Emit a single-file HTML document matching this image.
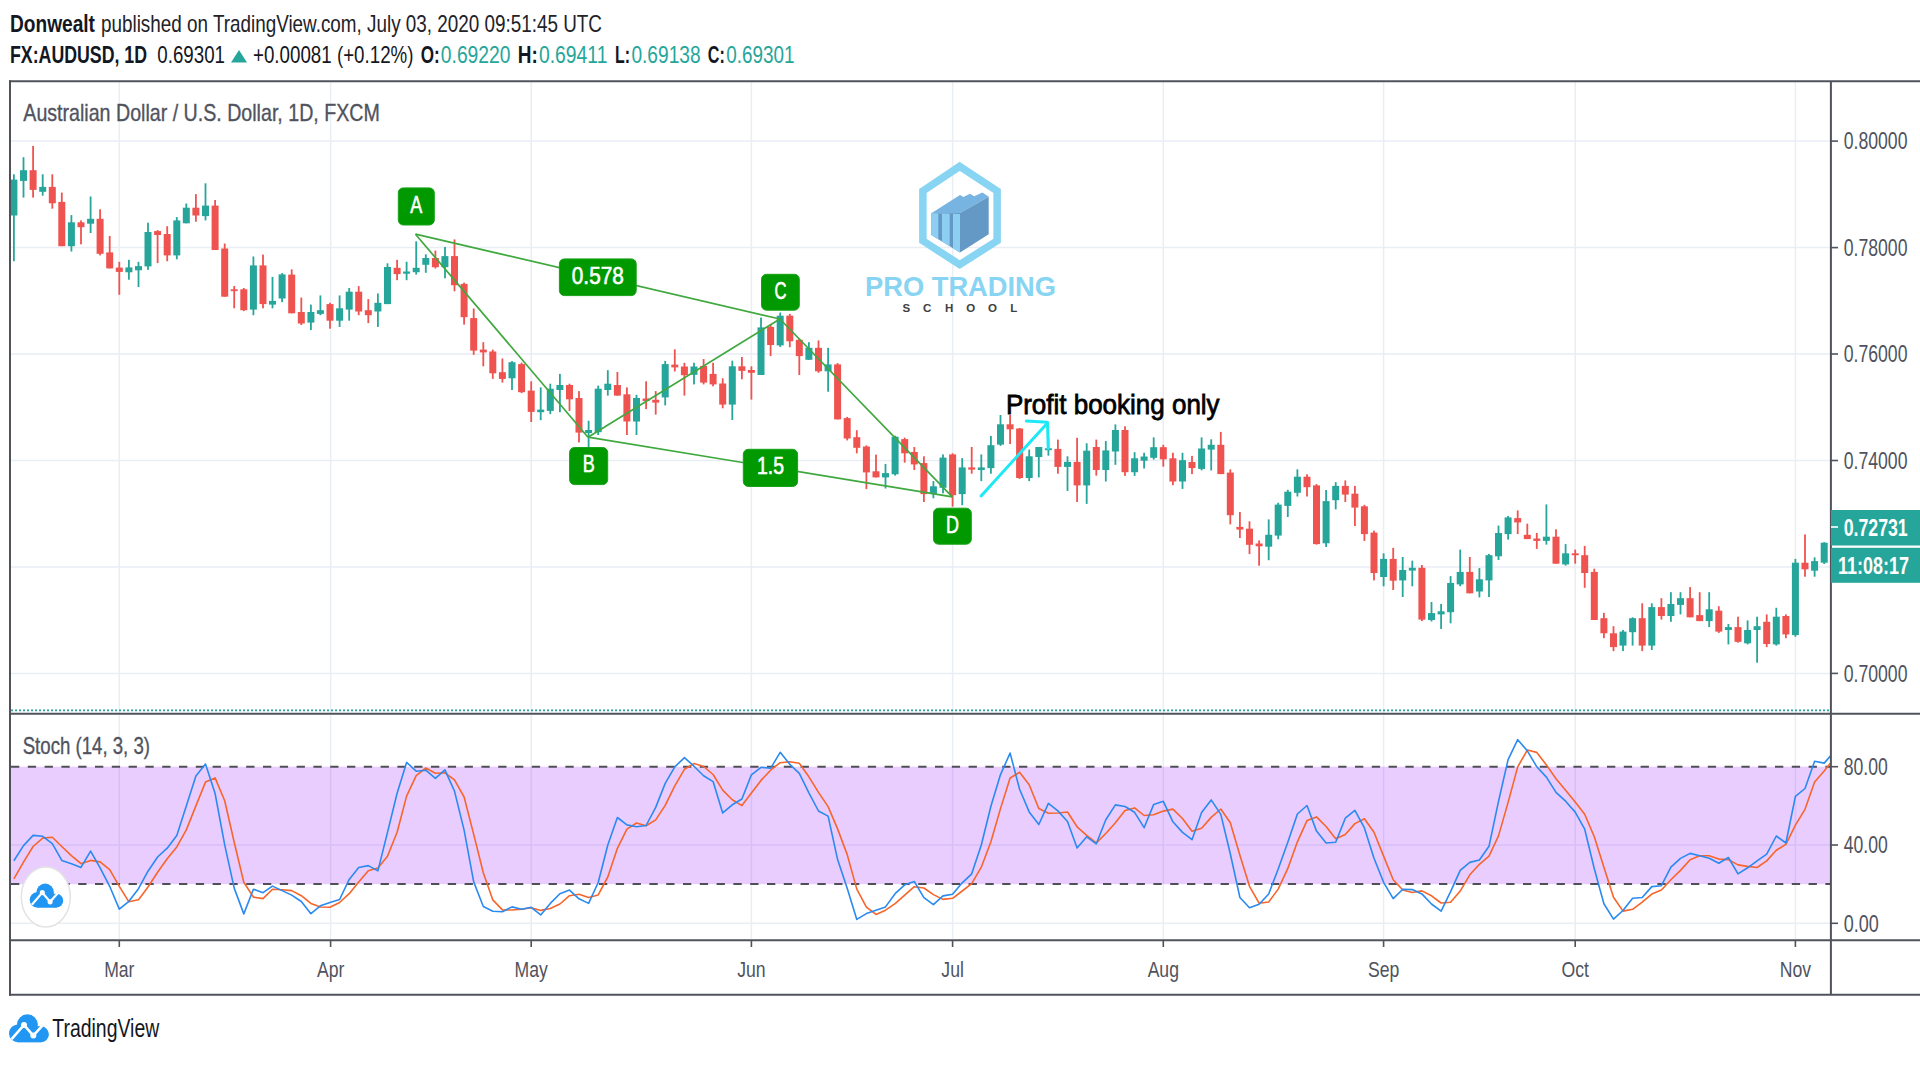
<!DOCTYPE html><html><head><meta charset="utf-8"><style>html,body{margin:0;padding:0;background:#fff;width:1920px;height:1080px;overflow:hidden}svg{display:block}text{font-family:"Liberation Sans",sans-serif}</style></head><body>
<svg width="1920" height="1080" viewBox="0 0 1920 1080">
<rect x="0" y="0" width="1920" height="1080" fill="#fff"/>
<text x="10" y="31.5" font-size="24" fill="#131722" font-weight="700" textLength="85" lengthAdjust="spacingAndGlyphs">Donwealt</text>
<text x="101" y="31.5" font-size="24" fill="#222228" textLength="501" lengthAdjust="spacingAndGlyphs">published on TradingView.com, July 03, 2020 09:51:45 UTC</text>
<text x="10" y="63.3" font-size="24" fill="#131722" font-weight="700" textLength="137" lengthAdjust="spacingAndGlyphs">FX:AUDUSD, 1D</text>
<text x="157.3" y="63.3" font-size="24" fill="#131722" textLength="67.7" lengthAdjust="spacingAndGlyphs">0.69301</text>
<polygon points="231,62.5 247,62.5 239,50" fill="#26a69a"/>
<text x="253" y="63.3" font-size="24" fill="#131722" textLength="160.5" lengthAdjust="spacingAndGlyphs">+0.00081 (+0.12%)</text>
<text x="420.8" y="63.3" font-size="24" fill="#131722" font-weight="700" textLength="19" lengthAdjust="spacingAndGlyphs">O:</text>
<text x="440.8" y="63.3" font-size="24" fill="#26a69a" textLength="69.7" lengthAdjust="spacingAndGlyphs">0.69220</text>
<text x="517.7" y="63.3" font-size="24" fill="#131722" font-weight="700" textLength="20" lengthAdjust="spacingAndGlyphs">H:</text>
<text x="539" y="63.3" font-size="24" fill="#26a69a" textLength="68.4" lengthAdjust="spacingAndGlyphs">0.69411</text>
<text x="615" y="63.3" font-size="24" fill="#131722" font-weight="700" textLength="15" lengthAdjust="spacingAndGlyphs">L:</text>
<text x="631.4" y="63.3" font-size="24" fill="#26a69a" textLength="69.2" lengthAdjust="spacingAndGlyphs">0.69138</text>
<text x="707.8" y="63.3" font-size="24" fill="#131722" font-weight="700" textLength="17" lengthAdjust="spacingAndGlyphs">C:</text>
<text x="726.2" y="63.3" font-size="24" fill="#26a69a" textLength="68.3" lengthAdjust="spacingAndGlyphs">0.69301</text>
<line x1="11" y1="141.1" x2="1830" y2="141.1" stroke="#e9edf4" stroke-width="1.5"/>
<line x1="11" y1="247.6" x2="1830" y2="247.6" stroke="#e9edf4" stroke-width="1.5"/>
<line x1="11" y1="354.0" x2="1830" y2="354.0" stroke="#e9edf4" stroke-width="1.5"/>
<line x1="11" y1="460.5" x2="1830" y2="460.5" stroke="#e9edf4" stroke-width="1.5"/>
<line x1="11" y1="566.9" x2="1830" y2="566.9" stroke="#e9edf4" stroke-width="1.5"/>
<line x1="11" y1="673.4" x2="1830" y2="673.4" stroke="#e9edf4" stroke-width="1.5"/>
<line x1="119.3" y1="82" x2="119.3" y2="713" stroke="#e9edf4" stroke-width="1.5"/>
<line x1="119.3" y1="715" x2="119.3" y2="939" stroke="#e9edf4" stroke-width="1.5"/>
<line x1="330.6" y1="82" x2="330.6" y2="713" stroke="#e9edf4" stroke-width="1.5"/>
<line x1="330.6" y1="715" x2="330.6" y2="939" stroke="#e9edf4" stroke-width="1.5"/>
<line x1="531.2" y1="82" x2="531.2" y2="713" stroke="#e9edf4" stroke-width="1.5"/>
<line x1="531.2" y1="715" x2="531.2" y2="939" stroke="#e9edf4" stroke-width="1.5"/>
<line x1="751.4" y1="82" x2="751.4" y2="713" stroke="#e9edf4" stroke-width="1.5"/>
<line x1="751.4" y1="715" x2="751.4" y2="939" stroke="#e9edf4" stroke-width="1.5"/>
<line x1="952.6" y1="82" x2="952.6" y2="713" stroke="#e9edf4" stroke-width="1.5"/>
<line x1="952.6" y1="715" x2="952.6" y2="939" stroke="#e9edf4" stroke-width="1.5"/>
<line x1="1163.3" y1="82" x2="1163.3" y2="713" stroke="#e9edf4" stroke-width="1.5"/>
<line x1="1163.3" y1="715" x2="1163.3" y2="939" stroke="#e9edf4" stroke-width="1.5"/>
<line x1="1383.6" y1="82" x2="1383.6" y2="713" stroke="#e9edf4" stroke-width="1.5"/>
<line x1="1383.6" y1="715" x2="1383.6" y2="939" stroke="#e9edf4" stroke-width="1.5"/>
<line x1="1575.2" y1="82" x2="1575.2" y2="713" stroke="#e9edf4" stroke-width="1.5"/>
<line x1="1575.2" y1="715" x2="1575.2" y2="939" stroke="#e9edf4" stroke-width="1.5"/>
<line x1="1795.4" y1="82" x2="1795.4" y2="713" stroke="#e9edf4" stroke-width="1.5"/>
<line x1="1795.4" y1="715" x2="1795.4" y2="939" stroke="#e9edf4" stroke-width="1.5"/>
<line x1="11" y1="845.0" x2="1830" y2="845.0" stroke="#e9edf4" stroke-width="1.5"/>
<line x1="11" y1="923.3" x2="1830" y2="923.3" stroke="#e9edf4" stroke-width="1.5"/>
<rect x="11" y="766.7" width="1819" height="117.5" fill="rgb(153,21,255)" fill-opacity="0.21"/>
<line x1="11" y1="766.7" x2="1830" y2="766.7" stroke="#4f4f58" stroke-width="2" stroke-dasharray="8.3 8.5"/>
<line x1="11" y1="884.1" x2="1830" y2="884.1" stroke="#4f4f58" stroke-width="2" stroke-dasharray="8.3 8.5"/>
<rect x="13.0" y="174.3" width="1.8" height="86.9" fill="#26a69a"/>
<rect x="10.4" y="179.6" width="7" height="35.9" fill="#26a69a"/>
<rect x="22.6" y="157.2" width="1.8" height="40.4" fill="#26a69a"/>
<rect x="20.0" y="170.2" width="7" height="10.7" fill="#26a69a"/>
<rect x="32.2" y="145.9" width="1.8" height="51.7" fill="#ef5350"/>
<rect x="29.6" y="170.2" width="7" height="19.7" fill="#ef5350"/>
<rect x="41.8" y="174.3" width="1.8" height="21.4" fill="#26a69a"/>
<rect x="39.2" y="186.9" width="7" height="4.9" fill="#26a69a"/>
<rect x="51.4" y="174.3" width="1.8" height="34.4" fill="#ef5350"/>
<rect x="48.8" y="186.9" width="7" height="16.4" fill="#ef5350"/>
<rect x="60.9" y="192.6" width="1.8" height="53.6" fill="#ef5350"/>
<rect x="58.3" y="201.9" width="7" height="44.3" fill="#ef5350"/>
<rect x="70.5" y="215.1" width="1.8" height="36.4" fill="#26a69a"/>
<rect x="67.9" y="222.3" width="7" height="23.9" fill="#26a69a"/>
<rect x="80.1" y="220.4" width="1.8" height="23.9" fill="#ef5350"/>
<rect x="77.5" y="222.3" width="7" height="4.9" fill="#ef5350"/>
<rect x="89.7" y="196.5" width="1.8" height="36.5" fill="#26a69a"/>
<rect x="87.1" y="218.8" width="7" height="4.9" fill="#26a69a"/>
<rect x="99.2" y="209.3" width="1.8" height="46.1" fill="#ef5350"/>
<rect x="96.6" y="218.8" width="7" height="35.0" fill="#ef5350"/>
<rect x="108.8" y="235.9" width="1.8" height="32.5" fill="#ef5350"/>
<rect x="106.2" y="252.4" width="7" height="16.0" fill="#ef5350"/>
<rect x="118.4" y="261.8" width="1.8" height="33.0" fill="#ef5350"/>
<rect x="115.8" y="267.6" width="7" height="4.3" fill="#ef5350"/>
<rect x="128.0" y="259.8" width="1.8" height="19.9" fill="#26a69a"/>
<rect x="125.4" y="267.4" width="7" height="4.9" fill="#26a69a"/>
<rect x="137.6" y="261.8" width="1.8" height="25.2" fill="#26a69a"/>
<rect x="135.0" y="266.1" width="7" height="4.2" fill="#26a69a"/>
<rect x="147.1" y="222.7" width="1.8" height="47.2" fill="#26a69a"/>
<rect x="144.5" y="232.0" width="7" height="34.4" fill="#26a69a"/>
<rect x="156.7" y="230.1" width="1.8" height="33.0" fill="#ef5350"/>
<rect x="154.1" y="231.1" width="7" height="3.9" fill="#ef5350"/>
<rect x="166.3" y="226.2" width="1.8" height="35.0" fill="#ef5350"/>
<rect x="163.7" y="234.0" width="7" height="21.4" fill="#ef5350"/>
<rect x="175.9" y="217.1" width="1.8" height="42.2" fill="#26a69a"/>
<rect x="173.3" y="220.4" width="7" height="35.0" fill="#26a69a"/>
<rect x="185.4" y="203.5" width="1.8" height="19.8" fill="#26a69a"/>
<rect x="182.8" y="207.7" width="7" height="15.6" fill="#26a69a"/>
<rect x="195.0" y="194.1" width="1.8" height="27.6" fill="#ef5350"/>
<rect x="192.4" y="207.7" width="7" height="7.8" fill="#ef5350"/>
<rect x="204.6" y="183.3" width="1.8" height="37.1" fill="#26a69a"/>
<rect x="202.0" y="205.6" width="7" height="10.5" fill="#26a69a"/>
<rect x="214.2" y="200.0" width="1.8" height="50.0" fill="#ef5350"/>
<rect x="211.6" y="205.6" width="7" height="44.4" fill="#ef5350"/>
<rect x="223.8" y="243.5" width="1.8" height="53.2" fill="#ef5350"/>
<rect x="221.2" y="248.5" width="7" height="48.2" fill="#ef5350"/>
<rect x="233.3" y="286.1" width="1.8" height="22.2" fill="#ef5350"/>
<rect x="230.7" y="289.3" width="7" height="1.8" fill="#ef5350"/>
<rect x="242.9" y="288.0" width="1.8" height="23.1" fill="#ef5350"/>
<rect x="240.3" y="289.3" width="7" height="20.9" fill="#ef5350"/>
<rect x="252.5" y="256.5" width="1.8" height="58.7" fill="#26a69a"/>
<rect x="249.9" y="265.4" width="7" height="44.2" fill="#26a69a"/>
<rect x="262.1" y="254.6" width="1.8" height="53.7" fill="#ef5350"/>
<rect x="259.5" y="265.4" width="7" height="38.7" fill="#ef5350"/>
<rect x="271.6" y="276.9" width="1.8" height="31.4" fill="#26a69a"/>
<rect x="269.0" y="300.9" width="7" height="3.7" fill="#26a69a"/>
<rect x="281.2" y="273.1" width="1.8" height="29.1" fill="#26a69a"/>
<rect x="278.6" y="274.4" width="7" height="24.1" fill="#26a69a"/>
<rect x="290.8" y="269.4" width="1.8" height="43.9" fill="#ef5350"/>
<rect x="288.2" y="274.6" width="7" height="38.7" fill="#ef5350"/>
<rect x="300.4" y="297.6" width="1.8" height="27.4" fill="#ef5350"/>
<rect x="297.8" y="312.0" width="7" height="11.5" fill="#ef5350"/>
<rect x="310.0" y="304.6" width="1.8" height="25.4" fill="#26a69a"/>
<rect x="307.4" y="312.0" width="7" height="10.6" fill="#26a69a"/>
<rect x="319.5" y="295.4" width="1.8" height="19.8" fill="#26a69a"/>
<rect x="316.9" y="310.2" width="7" height="3.7" fill="#26a69a"/>
<rect x="329.1" y="302.8" width="1.8" height="25.9" fill="#ef5350"/>
<rect x="326.5" y="304.1" width="7" height="16.6" fill="#ef5350"/>
<rect x="338.7" y="295.4" width="1.8" height="31.5" fill="#26a69a"/>
<rect x="336.1" y="308.3" width="7" height="12.4" fill="#26a69a"/>
<rect x="348.3" y="288.0" width="1.8" height="32.7" fill="#26a69a"/>
<rect x="345.7" y="291.7" width="7" height="17.9" fill="#26a69a"/>
<rect x="357.8" y="286.1" width="1.8" height="29.1" fill="#ef5350"/>
<rect x="355.2" y="291.7" width="7" height="19.8" fill="#ef5350"/>
<rect x="367.4" y="299.1" width="1.8" height="24.0" fill="#ef5350"/>
<rect x="364.8" y="310.2" width="7" height="5.0" fill="#ef5350"/>
<rect x="377.0" y="293.5" width="1.8" height="33.4" fill="#26a69a"/>
<rect x="374.4" y="302.8" width="7" height="8.7" fill="#26a69a"/>
<rect x="386.6" y="263.3" width="1.8" height="40.8" fill="#26a69a"/>
<rect x="384.0" y="267.0" width="7" height="37.1" fill="#26a69a"/>
<rect x="396.2" y="259.8" width="1.8" height="20.4" fill="#ef5350"/>
<rect x="393.6" y="267.8" width="7" height="6.3" fill="#ef5350"/>
<rect x="405.7" y="261.7" width="1.8" height="18.5" fill="#26a69a"/>
<rect x="403.1" y="271.5" width="7" height="2.2" fill="#26a69a"/>
<rect x="415.3" y="241.3" width="1.8" height="33.3" fill="#26a69a"/>
<rect x="412.7" y="267.8" width="7" height="4.4" fill="#26a69a"/>
<rect x="424.9" y="254.3" width="1.8" height="18.5" fill="#26a69a"/>
<rect x="422.3" y="258.0" width="7" height="6.8" fill="#26a69a"/>
<rect x="434.5" y="250.6" width="1.8" height="17.9" fill="#ef5350"/>
<rect x="431.9" y="258.0" width="7" height="9.2" fill="#ef5350"/>
<rect x="444.1" y="246.9" width="1.8" height="31.4" fill="#26a69a"/>
<rect x="441.4" y="256.1" width="7" height="11.1" fill="#26a69a"/>
<rect x="453.6" y="239.4" width="1.8" height="51.9" fill="#ef5350"/>
<rect x="451.0" y="256.1" width="7" height="29.1" fill="#ef5350"/>
<rect x="463.2" y="282.6" width="1.8" height="42.0" fill="#ef5350"/>
<rect x="460.6" y="283.9" width="7" height="33.3" fill="#ef5350"/>
<rect x="472.8" y="308.5" width="1.8" height="46.3" fill="#ef5350"/>
<rect x="470.2" y="318.1" width="7" height="32.5" fill="#ef5350"/>
<rect x="482.4" y="342.2" width="1.8" height="24.1" fill="#ef5350"/>
<rect x="479.8" y="349.6" width="7" height="2.8" fill="#ef5350"/>
<rect x="491.9" y="349.6" width="1.8" height="29.3" fill="#ef5350"/>
<rect x="489.3" y="351.5" width="7" height="21.8" fill="#ef5350"/>
<rect x="501.5" y="358.5" width="1.8" height="24.1" fill="#ef5350"/>
<rect x="498.9" y="372.2" width="7" height="6.7" fill="#ef5350"/>
<rect x="511.1" y="361.1" width="1.8" height="28.9" fill="#26a69a"/>
<rect x="508.5" y="362.2" width="7" height="16.1" fill="#26a69a"/>
<rect x="520.7" y="362.6" width="1.8" height="30.5" fill="#ef5350"/>
<rect x="518.1" y="364.1" width="7" height="28.1" fill="#ef5350"/>
<rect x="530.3" y="381.3" width="1.8" height="40.7" fill="#ef5350"/>
<rect x="527.7" y="390.6" width="7" height="21.3" fill="#ef5350"/>
<rect x="539.8" y="387.4" width="1.8" height="32.8" fill="#26a69a"/>
<rect x="537.2" y="409.6" width="7" height="2.6" fill="#26a69a"/>
<rect x="549.4" y="383.7" width="1.8" height="30.4" fill="#26a69a"/>
<rect x="546.8" y="388.7" width="7" height="22.2" fill="#26a69a"/>
<rect x="559.0" y="373.9" width="1.8" height="38.3" fill="#26a69a"/>
<rect x="556.4" y="385.0" width="7" height="5.0" fill="#26a69a"/>
<rect x="568.6" y="383.7" width="1.8" height="27.2" fill="#ef5350"/>
<rect x="566.0" y="385.0" width="7" height="14.3" fill="#ef5350"/>
<rect x="578.1" y="391.1" width="1.8" height="51.3" fill="#ef5350"/>
<rect x="575.5" y="398.0" width="7" height="34.6" fill="#ef5350"/>
<rect x="587.7" y="420.7" width="1.8" height="31.9" fill="#26a69a"/>
<rect x="585.1" y="430.0" width="7" height="3.1" fill="#26a69a"/>
<rect x="597.3" y="385.6" width="1.8" height="49.4" fill="#26a69a"/>
<rect x="594.7" y="388.7" width="7" height="43.5" fill="#26a69a"/>
<rect x="606.9" y="370.2" width="1.8" height="25.4" fill="#26a69a"/>
<rect x="604.3" y="383.7" width="7" height="6.3" fill="#26a69a"/>
<rect x="616.5" y="372.0" width="1.8" height="23.6" fill="#ef5350"/>
<rect x="613.9" y="385.0" width="7" height="10.6" fill="#ef5350"/>
<rect x="626.0" y="387.4" width="1.8" height="47.6" fill="#ef5350"/>
<rect x="623.4" y="394.3" width="7" height="27.2" fill="#ef5350"/>
<rect x="635.6" y="394.8" width="1.8" height="40.2" fill="#26a69a"/>
<rect x="633.0" y="398.0" width="7" height="23.5" fill="#26a69a"/>
<rect x="645.2" y="381.3" width="1.8" height="27.8" fill="#ef5350"/>
<rect x="642.6" y="398.5" width="7" height="2.6" fill="#ef5350"/>
<rect x="654.8" y="391.1" width="1.8" height="23.5" fill="#ef5350"/>
<rect x="652.2" y="399.8" width="7" height="2.8" fill="#ef5350"/>
<rect x="664.3" y="360.9" width="1.8" height="44.5" fill="#26a69a"/>
<rect x="661.7" y="364.1" width="7" height="33.3" fill="#26a69a"/>
<rect x="673.9" y="349.3" width="1.8" height="22.2" fill="#ef5350"/>
<rect x="671.3" y="364.6" width="7" height="2.8" fill="#ef5350"/>
<rect x="683.5" y="362.8" width="1.8" height="32.8" fill="#ef5350"/>
<rect x="680.9" y="366.5" width="7" height="8.7" fill="#ef5350"/>
<rect x="693.1" y="362.8" width="1.8" height="21.6" fill="#26a69a"/>
<rect x="690.5" y="366.5" width="7" height="8.3" fill="#26a69a"/>
<rect x="702.7" y="359.1" width="1.8" height="25.3" fill="#ef5350"/>
<rect x="700.1" y="365.9" width="7" height="16.7" fill="#ef5350"/>
<rect x="712.2" y="362.8" width="1.8" height="23.5" fill="#ef5350"/>
<rect x="709.6" y="373.9" width="7" height="10.5" fill="#ef5350"/>
<rect x="721.8" y="378.3" width="1.8" height="30.0" fill="#ef5350"/>
<rect x="719.2" y="383.5" width="7" height="21.1" fill="#ef5350"/>
<rect x="731.4" y="360.7" width="1.8" height="59.3" fill="#26a69a"/>
<rect x="728.8" y="366.3" width="7" height="38.3" fill="#26a69a"/>
<rect x="741.0" y="357.0" width="1.8" height="22.3" fill="#ef5350"/>
<rect x="738.4" y="366.3" width="7" height="4.6" fill="#ef5350"/>
<rect x="750.5" y="366.3" width="1.8" height="33.3" fill="#ef5350"/>
<rect x="747.9" y="370.0" width="7" height="2.8" fill="#ef5350"/>
<rect x="760.1" y="317.6" width="1.8" height="57.4" fill="#26a69a"/>
<rect x="757.5" y="327.4" width="7" height="47.6" fill="#26a69a"/>
<rect x="769.7" y="324.6" width="1.8" height="31.5" fill="#ef5350"/>
<rect x="767.1" y="326.9" width="7" height="18.1" fill="#ef5350"/>
<rect x="779.3" y="312.6" width="1.8" height="34.3" fill="#26a69a"/>
<rect x="776.7" y="315.7" width="7" height="29.7" fill="#26a69a"/>
<rect x="788.9" y="313.9" width="1.8" height="33.3" fill="#ef5350"/>
<rect x="786.3" y="315.7" width="7" height="25.6" fill="#ef5350"/>
<rect x="798.4" y="338.5" width="1.8" height="36.5" fill="#ef5350"/>
<rect x="795.8" y="339.8" width="7" height="16.3" fill="#ef5350"/>
<rect x="808.0" y="342.2" width="1.8" height="17.6" fill="#26a69a"/>
<rect x="805.4" y="347.8" width="7" height="12.0" fill="#26a69a"/>
<rect x="817.6" y="340.4" width="1.8" height="32.4" fill="#ef5350"/>
<rect x="815.0" y="347.8" width="7" height="23.5" fill="#ef5350"/>
<rect x="827.2" y="347.8" width="1.8" height="43.9" fill="#26a69a"/>
<rect x="824.6" y="364.4" width="7" height="6.9" fill="#26a69a"/>
<rect x="836.7" y="363.1" width="1.8" height="56.3" fill="#ef5350"/>
<rect x="834.1" y="364.4" width="7" height="55.0" fill="#ef5350"/>
<rect x="846.3" y="416.9" width="1.8" height="23.5" fill="#ef5350"/>
<rect x="843.7" y="418.1" width="7" height="20.4" fill="#ef5350"/>
<rect x="855.9" y="430.2" width="1.8" height="23.1" fill="#ef5350"/>
<rect x="853.3" y="437.2" width="7" height="10.6" fill="#ef5350"/>
<rect x="865.5" y="445.4" width="1.8" height="43.7" fill="#ef5350"/>
<rect x="862.9" y="446.5" width="7" height="25.9" fill="#ef5350"/>
<rect x="875.1" y="454.6" width="1.8" height="22.8" fill="#ef5350"/>
<rect x="872.5" y="471.3" width="7" height="6.1" fill="#ef5350"/>
<rect x="884.6" y="463.9" width="1.8" height="24.6" fill="#26a69a"/>
<rect x="882.0" y="473.1" width="7" height="4.3" fill="#26a69a"/>
<rect x="894.2" y="435.7" width="1.8" height="39.9" fill="#26a69a"/>
<rect x="891.6" y="436.7" width="7" height="37.6" fill="#26a69a"/>
<rect x="903.8" y="437.6" width="1.8" height="25.0" fill="#ef5350"/>
<rect x="901.2" y="439.1" width="7" height="14.2" fill="#ef5350"/>
<rect x="913.4" y="447.0" width="1.8" height="23.0" fill="#ef5350"/>
<rect x="910.8" y="452.0" width="7" height="12.4" fill="#ef5350"/>
<rect x="923.0" y="456.3" width="1.8" height="45.7" fill="#ef5350"/>
<rect x="920.4" y="463.1" width="7" height="31.0" fill="#ef5350"/>
<rect x="932.5" y="481.1" width="1.8" height="17.2" fill="#26a69a"/>
<rect x="929.9" y="486.3" width="7" height="7.8" fill="#26a69a"/>
<rect x="942.1" y="454.4" width="1.8" height="38.9" fill="#26a69a"/>
<rect x="939.5" y="457.6" width="7" height="30.2" fill="#26a69a"/>
<rect x="951.7" y="453.3" width="1.8" height="53.4" fill="#ef5350"/>
<rect x="949.1" y="454.4" width="7" height="40.8" fill="#ef5350"/>
<rect x="961.3" y="458.1" width="1.8" height="47.1" fill="#26a69a"/>
<rect x="958.7" y="467.4" width="7" height="26.7" fill="#26a69a"/>
<rect x="970.8" y="447.0" width="1.8" height="26.7" fill="#ef5350"/>
<rect x="968.2" y="467.4" width="7" height="2.2" fill="#ef5350"/>
<rect x="980.4" y="454.4" width="1.8" height="26.7" fill="#26a69a"/>
<rect x="977.8" y="467.4" width="7" height="2.6" fill="#26a69a"/>
<rect x="990.0" y="435.9" width="1.8" height="37.8" fill="#26a69a"/>
<rect x="987.4" y="445.2" width="7" height="22.9" fill="#26a69a"/>
<rect x="999.6" y="415.0" width="1.8" height="30.9" fill="#26a69a"/>
<rect x="997.0" y="424.3" width="7" height="20.3" fill="#26a69a"/>
<rect x="1009.2" y="415.0" width="1.8" height="29.1" fill="#ef5350"/>
<rect x="1006.6" y="424.3" width="7" height="5.0" fill="#ef5350"/>
<rect x="1018.7" y="428.0" width="1.8" height="50.9" fill="#ef5350"/>
<rect x="1016.1" y="428.5" width="7" height="49.5" fill="#ef5350"/>
<rect x="1028.3" y="449.6" width="1.8" height="31.5" fill="#26a69a"/>
<rect x="1025.7" y="456.3" width="7" height="21.7" fill="#26a69a"/>
<rect x="1037.9" y="447.0" width="1.8" height="30.4" fill="#26a69a"/>
<rect x="1035.3" y="447.0" width="7" height="10.0" fill="#26a69a"/>
<rect x="1047.5" y="437.2" width="1.8" height="18.5" fill="#26a69a"/>
<rect x="1044.9" y="448.3" width="7" height="1.9" fill="#26a69a"/>
<rect x="1057.0" y="439.6" width="1.8" height="34.1" fill="#ef5350"/>
<rect x="1054.4" y="448.9" width="7" height="18.0" fill="#ef5350"/>
<rect x="1066.6" y="456.3" width="1.8" height="34.6" fill="#26a69a"/>
<rect x="1064.0" y="461.9" width="7" height="5.0" fill="#26a69a"/>
<rect x="1076.2" y="437.8" width="1.8" height="64.2" fill="#ef5350"/>
<rect x="1073.6" y="461.9" width="7" height="23.5" fill="#ef5350"/>
<rect x="1085.8" y="443.3" width="1.8" height="60.6" fill="#26a69a"/>
<rect x="1083.2" y="450.7" width="7" height="34.7" fill="#26a69a"/>
<rect x="1095.4" y="439.6" width="1.8" height="36.0" fill="#ef5350"/>
<rect x="1092.8" y="447.0" width="7" height="23.0" fill="#ef5350"/>
<rect x="1104.9" y="441.1" width="1.8" height="40.4" fill="#26a69a"/>
<rect x="1102.3" y="450.4" width="7" height="19.6" fill="#26a69a"/>
<rect x="1114.5" y="424.4" width="1.8" height="40.4" fill="#26a69a"/>
<rect x="1111.9" y="430.0" width="7" height="21.5" fill="#26a69a"/>
<rect x="1124.1" y="426.3" width="1.8" height="49.6" fill="#ef5350"/>
<rect x="1121.5" y="430.0" width="7" height="42.2" fill="#ef5350"/>
<rect x="1133.7" y="452.2" width="1.8" height="23.7" fill="#26a69a"/>
<rect x="1131.1" y="458.3" width="7" height="13.9" fill="#26a69a"/>
<rect x="1143.2" y="452.8" width="1.8" height="15.7" fill="#26a69a"/>
<rect x="1140.6" y="456.5" width="7" height="4.2" fill="#26a69a"/>
<rect x="1152.8" y="437.4" width="1.8" height="22.2" fill="#26a69a"/>
<rect x="1150.2" y="447.2" width="7" height="10.6" fill="#26a69a"/>
<rect x="1162.4" y="444.8" width="1.8" height="21.9" fill="#ef5350"/>
<rect x="1159.8" y="447.2" width="7" height="12.1" fill="#ef5350"/>
<rect x="1172.0" y="452.8" width="1.8" height="32.4" fill="#ef5350"/>
<rect x="1169.4" y="458.3" width="7" height="23.2" fill="#ef5350"/>
<rect x="1181.6" y="452.8" width="1.8" height="36.1" fill="#26a69a"/>
<rect x="1179.0" y="460.2" width="7" height="21.3" fill="#26a69a"/>
<rect x="1191.1" y="455.9" width="1.8" height="18.2" fill="#ef5350"/>
<rect x="1188.5" y="462.0" width="7" height="6.1" fill="#ef5350"/>
<rect x="1200.7" y="437.4" width="1.8" height="33.0" fill="#26a69a"/>
<rect x="1198.1" y="448.5" width="7" height="20.4" fill="#26a69a"/>
<rect x="1210.3" y="439.3" width="1.8" height="31.1" fill="#26a69a"/>
<rect x="1207.7" y="444.8" width="7" height="4.8" fill="#26a69a"/>
<rect x="1219.9" y="431.9" width="1.8" height="42.2" fill="#ef5350"/>
<rect x="1217.3" y="444.8" width="7" height="29.3" fill="#ef5350"/>
<rect x="1229.4" y="469.4" width="1.8" height="55.0" fill="#ef5350"/>
<rect x="1226.8" y="472.6" width="7" height="42.6" fill="#ef5350"/>
<rect x="1239.0" y="512.0" width="1.8" height="26.0" fill="#ef5350"/>
<rect x="1236.4" y="526.9" width="7" height="2.7" fill="#ef5350"/>
<rect x="1248.6" y="521.3" width="1.8" height="32.8" fill="#ef5350"/>
<rect x="1246.0" y="528.7" width="7" height="16.1" fill="#ef5350"/>
<rect x="1258.2" y="540.4" width="1.8" height="25.3" fill="#ef5350"/>
<rect x="1255.6" y="543.5" width="7" height="2.8" fill="#ef5350"/>
<rect x="1267.8" y="519.4" width="1.8" height="40.8" fill="#26a69a"/>
<rect x="1265.2" y="534.8" width="7" height="11.9" fill="#26a69a"/>
<rect x="1277.3" y="502.8" width="1.8" height="36.5" fill="#26a69a"/>
<rect x="1274.7" y="504.6" width="7" height="31.0" fill="#26a69a"/>
<rect x="1286.9" y="489.8" width="1.8" height="27.2" fill="#26a69a"/>
<rect x="1284.3" y="491.7" width="7" height="14.2" fill="#26a69a"/>
<rect x="1296.5" y="469.3" width="1.8" height="27.2" fill="#26a69a"/>
<rect x="1293.9" y="476.7" width="7" height="16.1" fill="#26a69a"/>
<rect x="1306.1" y="474.3" width="1.8" height="22.2" fill="#ef5350"/>
<rect x="1303.5" y="476.7" width="7" height="10.5" fill="#ef5350"/>
<rect x="1315.6" y="484.1" width="1.8" height="60.5" fill="#ef5350"/>
<rect x="1313.0" y="485.4" width="7" height="58.7" fill="#ef5350"/>
<rect x="1325.2" y="490.0" width="1.8" height="57.0" fill="#26a69a"/>
<rect x="1322.6" y="501.1" width="7" height="42.2" fill="#26a69a"/>
<rect x="1334.8" y="482.2" width="1.8" height="27.2" fill="#26a69a"/>
<rect x="1332.2" y="485.9" width="7" height="14.3" fill="#26a69a"/>
<rect x="1344.4" y="480.4" width="1.8" height="21.6" fill="#ef5350"/>
<rect x="1341.8" y="485.9" width="7" height="8.7" fill="#ef5350"/>
<rect x="1354.0" y="485.9" width="1.8" height="40.2" fill="#ef5350"/>
<rect x="1351.4" y="493.7" width="7" height="13.9" fill="#ef5350"/>
<rect x="1363.5" y="504.8" width="1.8" height="36.1" fill="#ef5350"/>
<rect x="1360.9" y="506.3" width="7" height="27.8" fill="#ef5350"/>
<rect x="1373.1" y="530.7" width="1.8" height="49.7" fill="#ef5350"/>
<rect x="1370.5" y="532.6" width="7" height="40.4" fill="#ef5350"/>
<rect x="1382.7" y="553.3" width="1.8" height="33.0" fill="#26a69a"/>
<rect x="1380.1" y="558.9" width="7" height="18.1" fill="#26a69a"/>
<rect x="1392.3" y="547.8" width="1.8" height="42.2" fill="#ef5350"/>
<rect x="1389.7" y="558.9" width="7" height="21.8" fill="#ef5350"/>
<rect x="1401.8" y="557.0" width="1.8" height="40.0" fill="#26a69a"/>
<rect x="1399.2" y="570.0" width="7" height="10.4" fill="#26a69a"/>
<rect x="1411.4" y="560.7" width="1.8" height="25.6" fill="#26a69a"/>
<rect x="1408.8" y="567.8" width="7" height="2.8" fill="#26a69a"/>
<rect x="1421.0" y="565.0" width="1.8" height="56.1" fill="#ef5350"/>
<rect x="1418.4" y="567.8" width="7" height="51.8" fill="#ef5350"/>
<rect x="1430.6" y="602.0" width="1.8" height="19.5" fill="#26a69a"/>
<rect x="1428.0" y="613.1" width="7" height="6.9" fill="#26a69a"/>
<rect x="1440.2" y="603.9" width="1.8" height="25.0" fill="#26a69a"/>
<rect x="1437.6" y="611.3" width="7" height="3.1" fill="#26a69a"/>
<rect x="1449.7" y="576.1" width="1.8" height="47.2" fill="#26a69a"/>
<rect x="1447.1" y="583.0" width="7" height="29.2" fill="#26a69a"/>
<rect x="1459.3" y="549.6" width="1.8" height="36.7" fill="#26a69a"/>
<rect x="1456.7" y="571.9" width="7" height="12.5" fill="#26a69a"/>
<rect x="1468.9" y="557.0" width="1.8" height="36.3" fill="#ef5350"/>
<rect x="1466.3" y="571.9" width="7" height="21.4" fill="#ef5350"/>
<rect x="1478.5" y="568.1" width="1.8" height="29.3" fill="#26a69a"/>
<rect x="1475.9" y="579.3" width="7" height="12.2" fill="#26a69a"/>
<rect x="1488.1" y="553.9" width="1.8" height="43.1" fill="#26a69a"/>
<rect x="1485.5" y="555.2" width="7" height="25.2" fill="#26a69a"/>
<rect x="1497.6" y="525.6" width="1.8" height="34.4" fill="#26a69a"/>
<rect x="1495.0" y="533.0" width="7" height="23.3" fill="#26a69a"/>
<rect x="1507.2" y="515.9" width="1.8" height="23.7" fill="#26a69a"/>
<rect x="1504.6" y="517.4" width="7" height="16.7" fill="#26a69a"/>
<rect x="1516.8" y="510.4" width="1.8" height="23.7" fill="#ef5350"/>
<rect x="1514.2" y="518.1" width="7" height="4.3" fill="#ef5350"/>
<rect x="1526.4" y="523.7" width="1.8" height="15.4" fill="#ef5350"/>
<rect x="1523.8" y="534.8" width="7" height="4.3" fill="#ef5350"/>
<rect x="1535.9" y="533.0" width="1.8" height="15.9" fill="#ef5350"/>
<rect x="1533.3" y="538.5" width="7" height="2.4" fill="#ef5350"/>
<rect x="1545.5" y="504.4" width="1.8" height="40.2" fill="#26a69a"/>
<rect x="1542.9" y="536.7" width="7" height="4.2" fill="#26a69a"/>
<rect x="1555.1" y="529.3" width="1.8" height="34.4" fill="#ef5350"/>
<rect x="1552.5" y="536.7" width="7" height="27.0" fill="#ef5350"/>
<rect x="1564.7" y="544.1" width="1.8" height="21.5" fill="#26a69a"/>
<rect x="1562.1" y="553.3" width="7" height="11.1" fill="#26a69a"/>
<rect x="1574.3" y="549.6" width="1.8" height="14.1" fill="#ef5350"/>
<rect x="1571.7" y="553.3" width="7" height="1.9" fill="#ef5350"/>
<rect x="1583.8" y="545.9" width="1.8" height="41.9" fill="#ef5350"/>
<rect x="1581.2" y="555.2" width="7" height="17.8" fill="#ef5350"/>
<rect x="1593.4" y="568.7" width="1.8" height="51.3" fill="#ef5350"/>
<rect x="1590.8" y="571.9" width="7" height="48.1" fill="#ef5350"/>
<rect x="1603.0" y="612.9" width="1.8" height="25.3" fill="#ef5350"/>
<rect x="1600.4" y="618.2" width="7" height="15.1" fill="#ef5350"/>
<rect x="1612.6" y="626.2" width="1.8" height="24.9" fill="#ef5350"/>
<rect x="1610.0" y="633.3" width="7" height="13.8" fill="#ef5350"/>
<rect x="1622.1" y="630.0" width="1.8" height="21.1" fill="#26a69a"/>
<rect x="1619.5" y="631.6" width="7" height="14.0" fill="#26a69a"/>
<rect x="1631.7" y="617.3" width="1.8" height="28.3" fill="#26a69a"/>
<rect x="1629.1" y="618.2" width="7" height="14.0" fill="#26a69a"/>
<rect x="1641.3" y="603.3" width="1.8" height="47.8" fill="#ef5350"/>
<rect x="1638.7" y="618.2" width="7" height="27.4" fill="#ef5350"/>
<rect x="1650.9" y="603.3" width="1.8" height="46.7" fill="#26a69a"/>
<rect x="1648.3" y="607.1" width="7" height="38.5" fill="#26a69a"/>
<rect x="1660.5" y="598.2" width="1.8" height="21.4" fill="#ef5350"/>
<rect x="1657.9" y="607.1" width="7" height="8.9" fill="#ef5350"/>
<rect x="1670.0" y="592.2" width="1.8" height="29.6" fill="#26a69a"/>
<rect x="1667.4" y="604.0" width="7" height="12.0" fill="#26a69a"/>
<rect x="1679.6" y="592.2" width="1.8" height="22.2" fill="#26a69a"/>
<rect x="1677.0" y="598.2" width="7" height="6.7" fill="#26a69a"/>
<rect x="1689.2" y="587.1" width="1.8" height="30.2" fill="#ef5350"/>
<rect x="1686.6" y="598.2" width="7" height="19.1" fill="#ef5350"/>
<rect x="1698.8" y="592.2" width="1.8" height="28.9" fill="#ef5350"/>
<rect x="1696.2" y="615.1" width="7" height="6.0" fill="#ef5350"/>
<rect x="1708.3" y="592.2" width="1.8" height="34.9" fill="#26a69a"/>
<rect x="1705.7" y="609.3" width="7" height="11.8" fill="#26a69a"/>
<rect x="1717.9" y="606.2" width="1.8" height="26.7" fill="#ef5350"/>
<rect x="1715.3" y="610.7" width="7" height="20.9" fill="#ef5350"/>
<rect x="1727.5" y="624.0" width="1.8" height="20.4" fill="#26a69a"/>
<rect x="1724.9" y="627.1" width="7" height="2.9" fill="#26a69a"/>
<rect x="1737.1" y="616.7" width="1.8" height="26.0" fill="#ef5350"/>
<rect x="1734.5" y="627.1" width="7" height="14.7" fill="#ef5350"/>
<rect x="1746.7" y="620.4" width="1.8" height="24.0" fill="#26a69a"/>
<rect x="1744.1" y="630.0" width="7" height="13.3" fill="#26a69a"/>
<rect x="1756.2" y="616.7" width="1.8" height="46.0" fill="#26a69a"/>
<rect x="1753.6" y="626.2" width="7" height="3.8" fill="#26a69a"/>
<rect x="1765.8" y="614.4" width="1.8" height="32.7" fill="#ef5350"/>
<rect x="1763.2" y="621.8" width="7" height="22.2" fill="#ef5350"/>
<rect x="1775.4" y="607.8" width="1.8" height="37.8" fill="#26a69a"/>
<rect x="1772.8" y="616.7" width="7" height="27.7" fill="#26a69a"/>
<rect x="1785.0" y="614.4" width="1.8" height="23.8" fill="#ef5350"/>
<rect x="1782.4" y="616.0" width="7" height="18.4" fill="#ef5350"/>
<rect x="1794.5" y="558.9" width="1.8" height="77.8" fill="#26a69a"/>
<rect x="1791.9" y="562.7" width="7" height="72.4" fill="#26a69a"/>
<rect x="1804.1" y="534.4" width="1.8" height="42.3" fill="#ef5350"/>
<rect x="1801.5" y="562.7" width="7" height="6.6" fill="#ef5350"/>
<rect x="1813.7" y="557.3" width="1.8" height="19.4" fill="#26a69a"/>
<rect x="1811.1" y="561.1" width="7" height="9.6" fill="#26a69a"/>
<rect x="1823.3" y="542.2" width="1.8" height="21.8" fill="#26a69a"/>
<rect x="1820.7" y="542.7" width="7" height="20.0" fill="#26a69a"/>
<defs><clipPath id="stc"><rect x="11" y="715" width="1819" height="224"/></clipPath></defs>
<polyline points="13.9,878.9 23.5,862.2 33.1,846.5 42.7,838.1 52.3,837.2 61.8,846.5 71.4,855.7 81.0,863.7 90.6,860.4 100.1,861.9 109.7,869.6 119.3,886.3 128.9,901.8 138.5,899.7 148.0,887.0 157.6,872.3 167.2,858.8 176.8,846.9 186.3,829.9 195.9,805.9 205.5,782.1 215.1,777.9 224.7,800.8 234.2,842.2 243.8,882.3 253.4,897.1 263.0,898.6 272.5,889.3 282.1,889.8 291.7,890.6 301.3,895.7 310.9,903.4 320.4,907.0 330.0,907.3 339.6,902.5 349.2,893.7 358.7,882.1 368.3,870.8 377.9,868.0 387.5,856.3 397.1,832.2 406.6,796.1 416.2,775.6 425.8,768.0 435.4,773.3 444.9,772.8 454.5,779.8 464.1,797.0 473.7,834.4 483.3,872.8 492.8,899.9 502.4,909.9 512.0,910.0 521.6,909.3 531.2,907.8 540.7,910.4 550.3,908.5 559.9,904.0 569.5,895.7 579.0,894.2 588.6,897.4 598.2,894.9 607.8,877.0 617.4,848.3 626.9,829.1 636.5,823.0 646.1,825.7 655.7,819.9 665.2,805.4 674.8,785.9 684.4,769.3 694.0,763.6 703.6,766.5 713.1,774.5 722.7,790.1 732.3,799.7 741.9,805.6 751.4,792.9 761.0,780.4 770.6,770.2 780.2,762.7 789.8,761.7 799.3,763.3 808.9,776.8 818.5,792.4 828.1,806.6 837.6,828.9 847.2,854.6 856.8,889.1 866.4,907.1 876.0,914.4 885.5,910.2 895.1,903.6 904.7,895.1 914.3,886.7 923.9,888.0 933.4,894.6 943.0,899.4 952.6,898.3 962.2,891.0 971.7,883.6 981.3,867.2 990.9,841.7 1000.5,808.6 1010.1,778.0 1019.6,772.3 1029.2,784.7 1038.8,808.5 1048.4,813.3 1057.9,813.0 1067.5,812.0 1077.1,826.8 1086.7,835.4 1096.3,842.9 1105.8,833.5 1115.4,822.8 1125.0,810.4 1134.6,807.9 1144.1,815.5 1153.7,814.8 1163.3,811.1 1172.9,809.1 1182.5,818.5 1192.0,831.3 1201.6,828.2 1211.2,817.4 1220.8,809.0 1230.3,822.7 1239.9,855.2 1249.5,886.3 1259.1,903.2 1268.7,902.0 1278.2,889.1 1287.8,868.4 1297.4,841.8 1307.0,820.6 1316.5,816.9 1326.1,826.5 1335.7,838.8 1345.3,834.5 1354.9,823.6 1364.4,818.8 1374.0,832.2 1383.6,856.1 1393.2,879.7 1402.8,890.0 1412.3,892.5 1421.9,890.9 1431.5,895.8 1441.1,903.0 1450.6,902.3 1460.2,891.1 1469.8,874.8 1479.4,864.3 1489.0,856.2 1498.5,835.9 1508.1,802.4 1517.7,766.9 1527.3,750.0 1536.8,752.4 1546.4,764.9 1556.0,778.7 1565.6,790.2 1575.2,801.9 1584.7,814.2 1594.3,836.7 1603.9,867.3 1613.5,897.2 1623.0,911.1 1632.6,909.3 1642.2,902.1 1651.8,894.1 1661.4,890.0 1670.9,879.8 1680.5,870.4 1690.1,859.7 1699.7,855.8 1709.2,855.8 1718.8,859.1 1728.4,859.6 1738.0,864.9 1747.6,866.4 1757.1,867.5 1766.7,860.9 1776.3,850.3 1785.9,844.4 1795.4,825.1 1805.0,809.3 1814.6,782.0 1824.2,771.0 1833.8,758.9" fill="none" stroke="#f8652a" stroke-width="1.6" stroke-linejoin="round" clip-path="url(#stc)"/>
<polyline points="13.9,860.7 23.5,845.6 33.1,835.4 42.7,836.3 52.3,843.7 61.8,860.4 71.4,863.7 81.0,867.4 90.6,851.1 100.1,867.8 109.7,886.3 119.3,909.1 128.9,901.3 138.5,888.7 148.0,871.2 157.6,857.0 167.2,848.2 176.8,835.5 186.3,806.1 195.9,776.0 205.5,764.1 215.1,793.5 224.7,844.9 234.2,888.1 243.8,913.9 253.4,889.2 263.0,892.7 272.5,886.1 282.1,890.6 291.7,895.1 301.3,901.5 310.9,913.7 320.4,905.8 330.0,902.4 339.6,899.5 349.2,879.4 358.7,867.5 368.3,865.6 377.9,870.9 387.5,832.4 397.1,793.3 406.6,762.4 416.2,771.2 425.8,770.2 435.4,778.4 444.9,769.9 454.5,791.1 464.1,830.1 473.7,881.9 483.3,906.5 492.8,911.2 502.4,911.8 512.0,906.9 521.6,909.2 531.2,907.3 540.7,914.9 550.3,903.4 559.9,893.7 569.5,890.1 579.0,898.8 588.6,903.4 598.2,882.5 607.8,845.0 617.4,817.5 626.9,824.9 636.5,826.7 646.1,825.5 655.7,807.4 665.2,783.4 674.8,766.9 684.4,757.6 694.0,766.2 703.6,775.8 713.1,781.6 722.7,812.9 732.3,804.8 741.9,799.0 751.4,774.8 761.0,767.3 770.6,768.3 780.2,752.3 789.8,764.3 799.3,773.3 808.9,792.8 818.5,811.0 828.1,816.1 837.6,859.6 847.2,888.2 856.8,919.4 866.4,913.6 876.0,910.3 885.5,906.9 895.1,893.7 904.7,884.8 914.3,881.5 923.9,897.7 933.4,904.6 943.0,895.9 952.6,894.3 962.2,882.8 971.7,873.8 981.3,845.0 990.9,806.3 1000.5,774.6 1010.1,753.1 1019.6,789.2 1029.2,811.9 1038.8,824.5 1048.4,803.4 1057.9,810.9 1067.5,821.5 1077.1,847.9 1086.7,836.8 1096.3,843.8 1105.8,819.7 1115.4,804.9 1125.0,806.5 1134.6,812.3 1144.1,827.7 1153.7,804.4 1163.3,801.3 1172.9,821.8 1182.5,832.4 1192.0,839.7 1201.6,812.6 1211.2,799.9 1220.8,814.4 1230.3,853.8 1239.9,897.5 1249.5,907.7 1259.1,904.3 1268.7,894.0 1278.2,869.0 1287.8,842.3 1297.4,814.0 1307.0,805.5 1316.5,831.1 1326.1,843.0 1335.7,842.3 1345.3,818.2 1354.9,810.4 1364.4,827.9 1374.0,858.2 1383.6,882.3 1393.2,898.6 1402.8,889.2 1412.3,889.6 1421.9,893.9 1431.5,904.0 1441.1,911.2 1450.6,891.7 1460.2,870.4 1469.8,862.4 1479.4,860.0 1489.0,846.3 1498.5,801.3 1508.1,759.6 1517.7,739.7 1527.3,750.8 1536.8,766.8 1546.4,777.1 1556.0,792.4 1565.6,801.2 1575.2,812.1 1584.7,829.2 1594.3,868.8 1603.9,903.8 1613.5,919.1 1623.0,910.5 1632.6,898.2 1642.2,897.5 1651.8,886.6 1661.4,885.7 1670.9,867.2 1680.5,858.4 1690.1,853.4 1699.7,855.7 1709.2,858.2 1718.8,863.3 1728.4,857.5 1738.0,873.9 1747.6,867.8 1757.1,860.8 1766.7,854.1 1776.3,836.0 1785.9,843.0 1795.4,796.3 1805.0,788.5 1814.6,761.3 1824.2,763.1 1833.8,752.2" fill="none" stroke="#2a8af0" stroke-width="1.6" stroke-linejoin="round" clip-path="url(#stc)"/>
<line x1="9" y1="81.2" x2="1920" y2="81.2" stroke="#50535b" stroke-width="2"/>
<line x1="10" y1="80.2" x2="10" y2="995.8" stroke="#50535b" stroke-width="2"/>
<line x1="9" y1="994.8" x2="1920" y2="994.8" stroke="#50535b" stroke-width="2"/>
<line x1="10" y1="713.8" x2="1920" y2="713.8" stroke="#50535b" stroke-width="2"/>
<line x1="10" y1="940.3" x2="1920" y2="940.3" stroke="#50535b" stroke-width="2"/>
<line x1="1830.9" y1="81" x2="1830.9" y2="995" stroke="#50535b" stroke-width="2"/>
<line x1="11" y1="710.4" x2="1830" y2="710.4" stroke="#26a69a" stroke-width="1.6" stroke-dasharray="2 2"/>
<line x1="1831" y1="141.1" x2="1838" y2="141.1" stroke="#50535b" stroke-width="1.6"/>
<text x="1843.7" y="149.4" font-size="23" fill="#50535e" textLength="63.8" lengthAdjust="spacingAndGlyphs">0.80000</text>
<line x1="1831" y1="247.6" x2="1838" y2="247.6" stroke="#50535b" stroke-width="1.6"/>
<text x="1843.7" y="255.8600000000001" font-size="23" fill="#50535e" textLength="63.8" lengthAdjust="spacingAndGlyphs">0.78000</text>
<line x1="1831" y1="354.0" x2="1838" y2="354.0" stroke="#50535b" stroke-width="1.6"/>
<text x="1843.7" y="362.3200000000002" font-size="23" fill="#50535e" textLength="63.8" lengthAdjust="spacingAndGlyphs">0.76000</text>
<line x1="1831" y1="460.5" x2="1838" y2="460.5" stroke="#50535b" stroke-width="1.6"/>
<text x="1843.7" y="468.78000000000026" font-size="23" fill="#50535e" textLength="63.8" lengthAdjust="spacingAndGlyphs">0.74000</text>
<line x1="1831" y1="566.9" x2="1838" y2="566.9" stroke="#50535b" stroke-width="1.6"/>
<text x="1843.7" y="575.2399999999998" font-size="23" fill="#50535e" textLength="63.8" lengthAdjust="spacingAndGlyphs">0.72000</text>
<line x1="1831" y1="673.4" x2="1838" y2="673.4" stroke="#50535b" stroke-width="1.6"/>
<text x="1843.7" y="681.6999999999998" font-size="23" fill="#50535e" textLength="63.8" lengthAdjust="spacingAndGlyphs">0.70000</text>
<rect x="1831" y="510" width="89" height="35.5" fill="#26a69a"/>
<rect x="1831" y="547.8" width="89" height="35" fill="#26a69a"/>
<line x1="1831" y1="527" x2="1838" y2="527" stroke="#fff" stroke-width="1.6"/>
<text x="1843.7" y="536" font-size="23" fill="#fff" font-weight="700" textLength="64" lengthAdjust="spacingAndGlyphs">0.72731</text>
<text x="1838" y="573.5" font-size="23" fill="#fff" font-weight="700" textLength="71" lengthAdjust="spacingAndGlyphs">11:08:17</text>
<line x1="1831" y1="766.7" x2="1838" y2="766.7" stroke="#50535b" stroke-width="1.6"/>
<text x="1843.7" y="774.9999999999999" font-size="23" fill="#50535e" textLength="44" lengthAdjust="spacingAndGlyphs">80.00</text>
<line x1="1831" y1="845.0" x2="1838" y2="845.0" stroke="#50535b" stroke-width="1.6"/>
<text x="1843.7" y="853.3" font-size="23" fill="#50535e" textLength="44" lengthAdjust="spacingAndGlyphs">40.00</text>
<line x1="1831" y1="923.3" x2="1838" y2="923.3" stroke="#50535b" stroke-width="1.6"/>
<text x="1843.7" y="931.5999999999999" font-size="23" fill="#50535e" textLength="35" lengthAdjust="spacingAndGlyphs">0.00</text>
<line x1="119.3" y1="940" x2="119.3" y2="947" stroke="#50535b" stroke-width="1.6"/>
<text x="119.3" y="977" font-size="22" fill="#50535e" text-anchor="middle" transform-origin="119.3 977" transform="scale(0.8,1)">Mar</text>
<line x1="330.6" y1="940" x2="330.6" y2="947" stroke="#50535b" stroke-width="1.6"/>
<text x="330.6" y="977" font-size="22" fill="#50535e" text-anchor="middle" transform-origin="330.6 977" transform="scale(0.8,1)">Apr</text>
<line x1="531.2" y1="940" x2="531.2" y2="947" stroke="#50535b" stroke-width="1.6"/>
<text x="531.2" y="977" font-size="22" fill="#50535e" text-anchor="middle" transform-origin="531.2 977" transform="scale(0.8,1)">May</text>
<line x1="751.4" y1="940" x2="751.4" y2="947" stroke="#50535b" stroke-width="1.6"/>
<text x="751.4" y="977" font-size="22" fill="#50535e" text-anchor="middle" transform-origin="751.4 977" transform="scale(0.8,1)">Jun</text>
<line x1="952.6" y1="940" x2="952.6" y2="947" stroke="#50535b" stroke-width="1.6"/>
<text x="952.6" y="977" font-size="22" fill="#50535e" text-anchor="middle" transform-origin="952.6 977" transform="scale(0.8,1)">Jul</text>
<line x1="1163.3" y1="940" x2="1163.3" y2="947" stroke="#50535b" stroke-width="1.6"/>
<text x="1163.3" y="977" font-size="22" fill="#50535e" text-anchor="middle" transform-origin="1163.3 977" transform="scale(0.8,1)">Aug</text>
<line x1="1383.6" y1="940" x2="1383.6" y2="947" stroke="#50535b" stroke-width="1.6"/>
<text x="1383.6" y="977" font-size="22" fill="#50535e" text-anchor="middle" transform-origin="1383.6 977" transform="scale(0.8,1)">Sep</text>
<line x1="1575.2" y1="940" x2="1575.2" y2="947" stroke="#50535b" stroke-width="1.6"/>
<text x="1575.2" y="977" font-size="22" fill="#50535e" text-anchor="middle" transform-origin="1575.2 977" transform="scale(0.8,1)">Oct</text>
<line x1="1795.4" y1="940" x2="1795.4" y2="947" stroke="#50535b" stroke-width="1.6"/>
<text x="1795.4" y="977" font-size="22" fill="#50535e" text-anchor="middle" transform-origin="1795.4 977" transform="scale(0.8,1)">Nov</text>
<text x="23.3" y="121.4" font-size="24" fill="#50535e" textLength="356.5" lengthAdjust="spacingAndGlyphs" stroke="#50535e" stroke-width="0.35">Australian Dollar / U.S. Dollar, 1D, FXCM</text>
<text x="22.7" y="754" font-size="24" fill="#50535e" textLength="127.3" lengthAdjust="spacingAndGlyphs" stroke="#50535e" stroke-width="0.35">Stoch (14, 3, 3)</text>
<line x1="415.5" y1="234.2" x2="588" y2="437.2" stroke="#3fa83f" stroke-width="1.7"/>
<line x1="588" y1="437.2" x2="779.9" y2="319" stroke="#3fa83f" stroke-width="1.7"/>
<line x1="779.9" y1="319" x2="952.3" y2="496.8" stroke="#3fa83f" stroke-width="1.7"/>
<line x1="415.5" y1="234.2" x2="779.9" y2="319" stroke="#3fa83f" stroke-width="1.7"/>
<line x1="588" y1="437.2" x2="952.3" y2="496.8" stroke="#3fa83f" stroke-width="1.7"/>
<rect x="398.3" y="187.9" width="36.0" height="37.1" rx="5" ry="5" fill="#009900" stroke="#17a317" stroke-width="1"/>
<text x="416.3" y="212.8" font-size="23.5" fill="#fff" text-anchor="middle" textLength="12" lengthAdjust="spacingAndGlyphs" stroke="#fff" stroke-width="0.6">A</text>
<rect x="569.6" y="447.5" width="38.1" height="37.1" rx="5" ry="5" fill="#009900" stroke="#17a317" stroke-width="1"/>
<text x="588.7" y="472.4" font-size="23.5" fill="#fff" text-anchor="middle" textLength="12" lengthAdjust="spacingAndGlyphs" stroke="#fff" stroke-width="0.6">B</text>
<rect x="761.5" y="274.3" width="37.8" height="35.9" rx="5" ry="5" fill="#009900" stroke="#17a317" stroke-width="1"/>
<text x="780.4" y="298.6" font-size="23.5" fill="#fff" text-anchor="middle" textLength="12" lengthAdjust="spacingAndGlyphs" stroke="#fff" stroke-width="0.6">C</text>
<rect x="933.5" y="508.2" width="37.8" height="36.0" rx="5" ry="5" fill="#009900" stroke="#17a317" stroke-width="1"/>
<text x="952.4" y="532.5" font-size="23.5" fill="#fff" text-anchor="middle" textLength="13" lengthAdjust="spacingAndGlyphs" stroke="#fff" stroke-width="0.6">D</text>
<rect x="559.4" y="258.9" width="76.8" height="36.7" rx="5" ry="5" fill="#009900" stroke="#17a317" stroke-width="1"/>
<text x="597.8" y="283.6" font-size="23.5" fill="#fff" text-anchor="middle" textLength="52" lengthAdjust="spacingAndGlyphs" stroke="#fff" stroke-width="0.6">0.578</text>
<rect x="743.3" y="449.3" width="54.3" height="37.2" rx="5" ry="5" fill="#009900" stroke="#17a317" stroke-width="1"/>
<text x="770.5" y="474.2" font-size="23.5" fill="#fff" text-anchor="middle" textLength="27" lengthAdjust="spacingAndGlyphs" stroke="#fff" stroke-width="0.6">1.5</text>
<polygon points="959.7,166.3 997.1,190.9 997.1,240.8 959.7,264.6 922.9,240.8 922.9,190.9" fill="none" stroke="#87d4f3" stroke-width="7.5" stroke-linejoin="miter"/>
<polygon points="931.3,213.3 960.0,195.0 963.3,197.0 970.0,193.7 974.2,196.3 982.5,192.5 988.7,196.7 960.0,213.0" fill="#78b4e2"/>
<polygon points="960.0,213.0 988.7,196.7 988.7,234.2 960.0,252.5" fill="#6499c6"/>
<polygon points="931.3,213.3 960.0,213.0 960.0,252.5 931.3,235.0" fill="#6499c6"/>
<polygon points="931.3,213.3 938.3,213.5 938.3,239.3 931.3,235.0" fill="#8ccff2"/>
<polygon points="942.0,213.5 949.7,213.7 949.7,246.2 942.0,241.5" fill="#8ccff2"/>
<polygon points="953.0,213.8 960.0,213.9 960.0,252.5 953.0,248.2" fill="#8ccff2"/>
<text x="865" y="295.8" font-size="27.5" fill="#87d4f3" font-weight="700" textLength="191" lengthAdjust="spacingAndGlyphs">PRO TRADING</text>
<text x="906.3" y="311.8" font-size="11.5" fill="#404040" font-weight="700" text-anchor="middle">S</text>
<text x="927.1" y="311.8" font-size="11.5" fill="#404040" font-weight="700" text-anchor="middle">C</text>
<text x="949.2" y="311.8" font-size="11.5" fill="#404040" font-weight="700" text-anchor="middle">H</text>
<text x="970.8" y="311.8" font-size="11.5" fill="#404040" font-weight="700" text-anchor="middle">O</text>
<text x="992.5" y="311.8" font-size="11.5" fill="#404040" font-weight="700" text-anchor="middle">O</text>
<text x="1013.8" y="311.8" font-size="11.5" fill="#404040" font-weight="700" text-anchor="middle">L</text>
<line x1="981.1" y1="495.9" x2="1047.5" y2="423" stroke="#1de9f6" stroke-width="3" stroke-linecap="round"/>
<polyline points="1026.4,421 1047.5,422.3 1048.2,448.5" fill="none" stroke="#1de9f6" stroke-width="3" stroke-linecap="round" stroke-linejoin="round"/>
<text x="1005.9" y="414.3" font-size="28.5" fill="#000" textLength="213.7" lengthAdjust="spacingAndGlyphs" stroke="#000" stroke-width="0.8">Profit booking only</text>
<defs><g id="tvc"><circle cx="9" cy="19" r="8.9" fill="#2196f3"/><circle cx="18.5" cy="10.5" r="10.5" fill="#2196f3"/><circle cx="32" cy="20" r="8" fill="#2196f3"/><rect x="9" y="12" width="23" height="15.9" fill="#2196f3"/><rect x="9" y="20" width="23" height="7.9" fill="#2196f3"/><polyline points="2.7,24.8 15.1,10.6 24.4,21.3 33.7,11.1" fill="none" stroke="#fff" stroke-width="2.6"/><circle cx="15.1" cy="10.6" r="3" fill="#fff"/><circle cx="24.4" cy="21.3" r="3" fill="#fff"/></g></defs>
<use href="#tvc" transform="translate(8.9,1014.3)"/>
<text x="52.3" y="1036.9" font-size="25" fill="#131722" textLength="107" lengthAdjust="spacingAndGlyphs">TradingView</text>
<ellipse cx="45.8" cy="897" rx="24.5" ry="30" fill="#fff" stroke="#e3e3e3" stroke-width="1.5"/>
<use href="#tvc" transform="translate(29.6,883.5) scale(0.84,0.86)"/>
</svg></body></html>
